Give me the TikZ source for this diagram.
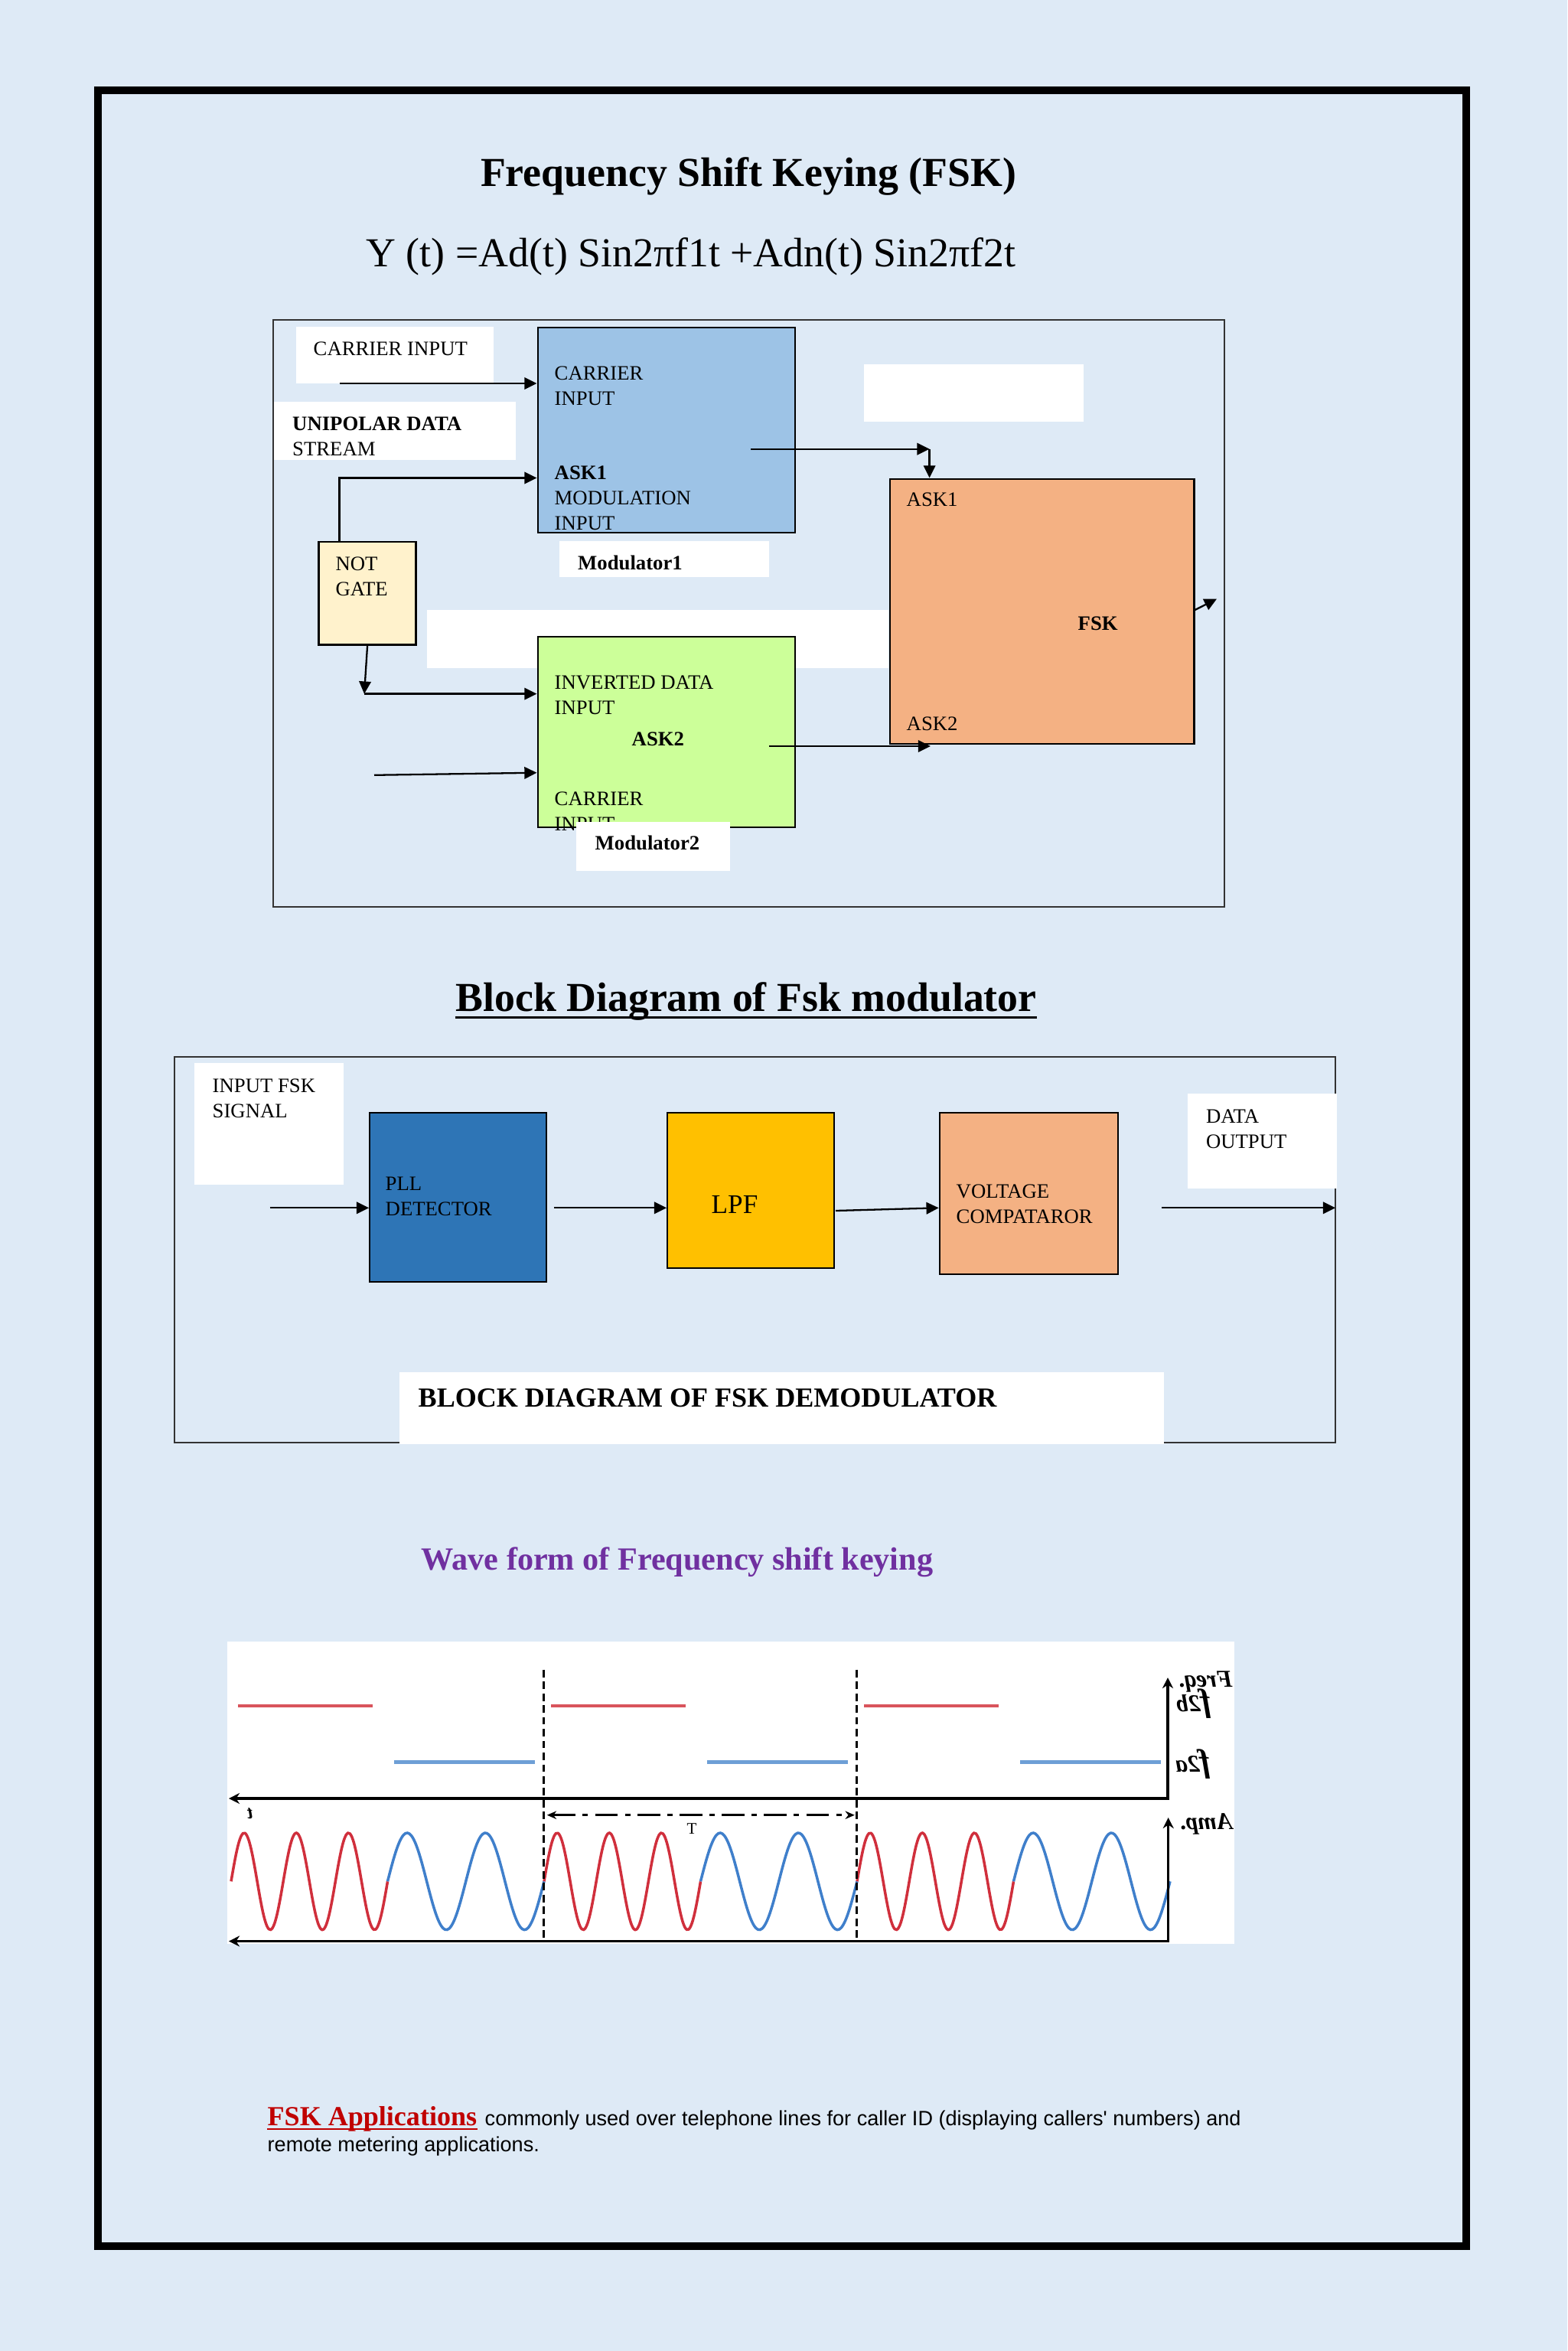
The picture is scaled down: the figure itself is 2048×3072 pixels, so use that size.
\documentclass[tikz,border=0pt]{standalone}
\usepackage{fontspec}
\setmainfont{Liberation Serif}
\newfontfamily\arialfont{Liberation Sans}
\usepackage{graphicx}
\usetikzlibrary{arrows.meta}
\definecolor{pagebg}{HTML}{DEEAF6}
\definecolor{askone}{HTML}{9DC3E6}
\definecolor{asktwo}{HTML}{CCFF99}
\definecolor{notgate}{HTML}{FFF2CC}
\definecolor{fskbox}{HTML}{F4B183}
\definecolor{pllblue}{HTML}{2E75B6}
\definecolor{lpfyellow}{HTML}{FFC000}
\definecolor{wavetitle}{HTML}{7030A0}
\definecolor{appred}{HTML}{C00000}
\definecolor{wavered}{HTML}{D02F3C}
\definecolor{waveblue}{HTML}{3F7FCB}
\definecolor{levelred}{HTML}{D9545C}
\definecolor{levelblue}{HTML}{6E9FD6}

\tikzset{
  secframe/.style={draw=black!80, line width=0.45pt},
  blk/.style={draw=black, line width=0.65pt, inner sep=0pt, anchor=north west},
  lbl/.style={inner sep=0pt, anchor=base west, align=left, font=\fontsize{7.6}{9.25}\selectfont},
  boldlbl/.style={lbl, font=\fontsize{7.6}{9.25}\selectfont\bfseries},
  heading/.style={inner sep=0pt, anchor=base, font=\fontsize{15.3}{18}\selectfont\bfseries},
  conn/.style={line width=0.65pt, -{Triangle[length=4.6pt,width=4.4pt]}},
  axisline/.style={line width=1pt, {Stealth[length=4pt,width=4pt]}-{Stealth[length=4pt,width=4pt]}},
  mirlbl/.style={inner sep=0pt, font=\fontsize{9}{10}\selectfont\bfseries\itshape},
}

\begin{document}
\begin{tikzpicture}[x=0.01cm,y=-0.01cm]
  \useasboundingbox (0,0) rectangle (2048,3072);
  \fill[pagebg] (0,0) rectangle (2048,3072);
  \draw[line width=2.6pt] (128,118) rectangle (1916,2935);

  % title and equation
  \node[heading] (title) at (978,243) {Frequency Shift Keying (FSK)};
  \node[heading, font=\fontsize{15.3}{18}\selectfont] (eqn) at (903,348) {Y (t) =Ad(t) Sin2πf1t +Adn(t) Sin2πf2t};

  % modulator
  \draw[secframe] (357,418) rectangle (1600,1185);
  \fill[white] (387,426.5) rectangle (645,501);
  \fill[white] (358,525) rectangle (674,600.5);
  \fill[white] (1129,476) rectangle (1416,551);
  \fill[white] (558,797) rectangle (1161,873);
  \fill[white] (731,706.6) rectangle (1005,753.5);
  \node[lbl] (carlbl) at (409,464) {CARRIER INPUT};
  \node[lbl] (unilbl) at (381.5,595.5) {\textbf{UNIPOLAR DATA}\\STREAM};

  \node[blk, fill=askone, minimum width=3.365cm, minimum height=2.675cm] (mod1) at (701.5,427) {};
  \node[blk, fill=notgate, minimum width=1.27cm, minimum height=1.347cm] (ng) at (415.4,706.6) {};
  \node[blk, fill=asktwo, minimum width=3.365cm, minimum height=2.495cm] (mod2) at (701.5,830.5) {};
  \node[blk, fill=fskbox, minimum width=3.974cm, minimum height=3.459cm] (fsk) at (1161.6,624.5) {};

  \node[lbl] (m1car) at (724,529.5) {CARRIER\\INPUT};
  \node[lbl] (m1mod) at (724,692) {\textbf{ASK1}\\MODULATION\\INPUT};
  \node[boldlbl] (m1name) at (754.5,744) {Modulator1};
  \node[lbl] (nglbl) at (437.8,778.5) {NOT\\GATE};
  \node[lbl] (m2inv) at (724,933.5) {INVERTED DATA\\INPUT};
  \node[boldlbl] (m2ask) at (825,974) {ASK2};
  \node[lbl] (m2car) at (724,1085.5) {CARRIER\\INPUT};
  \fill[white] (753,1073.5) rectangle (953.5,1138);
  \node[boldlbl] (m2name) at (777,1110.7) {Modulator2};
  \node[lbl] (fskin1) at (1184,661) {ASK1};
  \node[boldlbl] (fsklbl) at (1408,823.5) {FSK};
  \node[lbl] (fskin2) at (1184,954.6) {ASK2};

  \coordinate (cin1) at (443.6,501);
  \coordinate (datain) at (443.6,706.6);
  \coordinate (invbend) at (476,906.6);
  \coordinate (cin2) at (489,1012.8);
  \coordinate (m1out) at (981,586.7);
  \coordinate (fskj1) at (1214.6,586.7);
  \coordinate (m2out) at (1005,975);
  \coordinate (fskj2) at (1216,975);
  \coordinate (fskout) at (1590,782.6);
  \draw[conn] (cin1) -- (cin1 -| mod1.west);
  \draw[conn] (datain) |- (mod1.west |- 0,624.5);
  \draw[conn] (ng.south) -- (invbend);
  \draw[conn] (invbend) -- (invbend -| mod2.west);
  \draw[conn] (cin2) -- (mod2.west |- 0,1009.7);
  \draw[conn] (m1out) -- (fskj1);
  \draw[conn] (fskj1) -- (fskj1 |- fsk.north);
  \draw[conn] (m2out) -- (fskj2);
  \draw[conn] (fsk.east |- 0,797) -- (fskout);

  \node[heading] (blkttl) at (975,1321) {Block Diagram of Fsk modulator};
  \draw[line width=0.85pt] ([yshift=-2.3pt]blkttl.base west) -- ([yshift=-2.3pt]blkttl.base east);

  % demodulator
  \draw[secframe] (228,1381) rectangle (1745,1885);
  \fill[white] (254.4,1389) rectangle (448.8,1548);
  \fill[white] (1552,1429) rectangle (1747,1553);
  \fill[white] (521.5,1793) rectangle (1521,1887);
  \node[blk, fill=pllblue, minimum width=2.31cm, minimum height=2.21cm] (pll) at (482,1453) {};
  \node[blk, fill=lpfyellow, minimum width=2.18cm, minimum height=2.03cm] (lpf) at (871,1453) {};
  \node[blk, fill=fskbox, minimum width=2.328cm, minimum height=2.105cm] (vc) at (1226.7,1453) {};
  \node[lbl] (inlbl) at (277,1460.5) {INPUT FSK\\SIGNAL};
  \node[lbl] (plllbl) at (503,1588.5) {PLL\\DETECTOR};
  \node[lbl, font=\fontsize{10}{12}\selectfont] (lpflbl) at (929,1585) {LPF};
  \node[lbl] (vclbl) at (1249,1598.5) {VOLTAGE\\COMPATAROR};
  \node[lbl] (outlbl) at (1575.3,1500.2) {DATA\\OUTPUT};
  \node[boldlbl, font=\fontsize{10.25}{12}\selectfont\bfseries] (demttl) at (546,1838) {BLOCK DIAGRAM OF FSK DEMODULATOR};

  \coordinate (fskin) at (352.6,1578.3);
  \coordinate (pllout) at (723.8,1578.3);
  \coordinate (lpfout) at (1092,1582);
  \coordinate (vcout) at (1518,1578.3);
  \coordinate (dataout) at (1745,1578.3);
  \draw[conn] (fskin) -- (fskin -| pll.west);
  \draw[conn] (pllout) -- (pllout -| lpf.west);
  \draw[conn] (lpfout) -- (vc.west |- 0,1578.3);
  \draw[conn] (vcout) -- (dataout);

  % waveform
  \node[heading, font=\fontsize{12}{14}\selectfont\bfseries, text=wavetitle] (wavettl) at (885,2051.7) {Wave form of Frequency shift keying};
  \fill[white] (297,2145) rectangle (1613,2540);
  \foreach \k in {0,1,2} {
    \pgfmathsetmacro{\ws}{302+409*\k}
    \pgfmathsetmacro{\wm}{\ws+204.5}
    \pgfmathsetmacro{\we}{\ws+409}
    \draw[levelred, line width=1.3pt] (\ws+9,2229) -- (\ws+185,2229);
    \draw[levelblue, line width=1.3pt] (\ws+213,2302.7) -- (\ws+397,2302.7);
    \draw[wavered, line width=1pt] plot[domain=\ws:\wm, samples=80, smooth] (\x,{2458.3-63.3*sin((\x-\ws)*5.2809)});
    \draw[waveblue, line width=1pt] plot[domain=\wm:\we, samples=80, smooth] (\x,{2458.3-63.3*sin((\x-\wm)*3.5208)});
  }
  \foreach \dx in {710.5,1119.4}
    \draw[line width=0.9pt, dash pattern=on 2.8pt off 1.6pt] (\dx,2181.7) -- (\dx,2537);
  \draw[axisline] (299,2350) -- (1526,2350) -- (1526,2192);
  \draw[axisline] (299,2536.5) -- (1526.7,2536.5) -- (1526.7,2375);
  \draw[line width=0.9pt, dash pattern=on 8.5pt off 2.6pt on 2pt off 2.6pt, {Stealth[length=3.5pt,width=3pt]}-{Stealth[length=3.5pt,width=3pt]}] (714.8,2371.7) -- (1116.8,2371.7);
  \node[inner sep=0pt, font=\fontsize{6}{7}\selectfont] (tlbl) at (904,2390) {T};
  \node[mirlbl] (freqlbl) at (1575,2197) {\reflectbox{Freq.}};
  \node[mirlbl] (fblbl) at (1560,2226) {\reflectbox{{\fontsize{12}{12}\selectfont f}2b}};
  \node[mirlbl] (falbl) at (1559,2305) {\reflectbox{{\fontsize{12}{12}\selectfont f}2a}};
  \node[mirlbl] (amplbl) at (1576,2383.5) {\reflectbox{Amp.}};
  \node[mirlbl, font=\fontsize{7}{8}\selectfont\bfseries\itshape] (tmlbl) at (327,2370) {\reflectbox{t}};

  % applications
  \node[inner sep=0pt, anchor=base west, font=\fontsize{10.25}{12}\selectfont\bfseries, text=appred] (apphd) at (349,2777) {FSK Applications\ };
  \draw[appred, line width=0.7pt] ([yshift=-1.4pt]apphd.base west) -- ([yshift=-1.4pt]apphd.base east);
  \node[inner sep=0pt, anchor=base west, font=\arialfont\fontsize{7.7}{9}\selectfont] (apptxt) at (633,2777) {commonly used over telephone lines for caller ID (displaying callers' numbers) and};
  \node[inner sep=0pt, anchor=base west, font=\arialfont\fontsize{7.7}{9}\selectfont] (apptxt2) at (349,2811.5) {remote metering applications.};
\end{tikzpicture}
\end{document}
